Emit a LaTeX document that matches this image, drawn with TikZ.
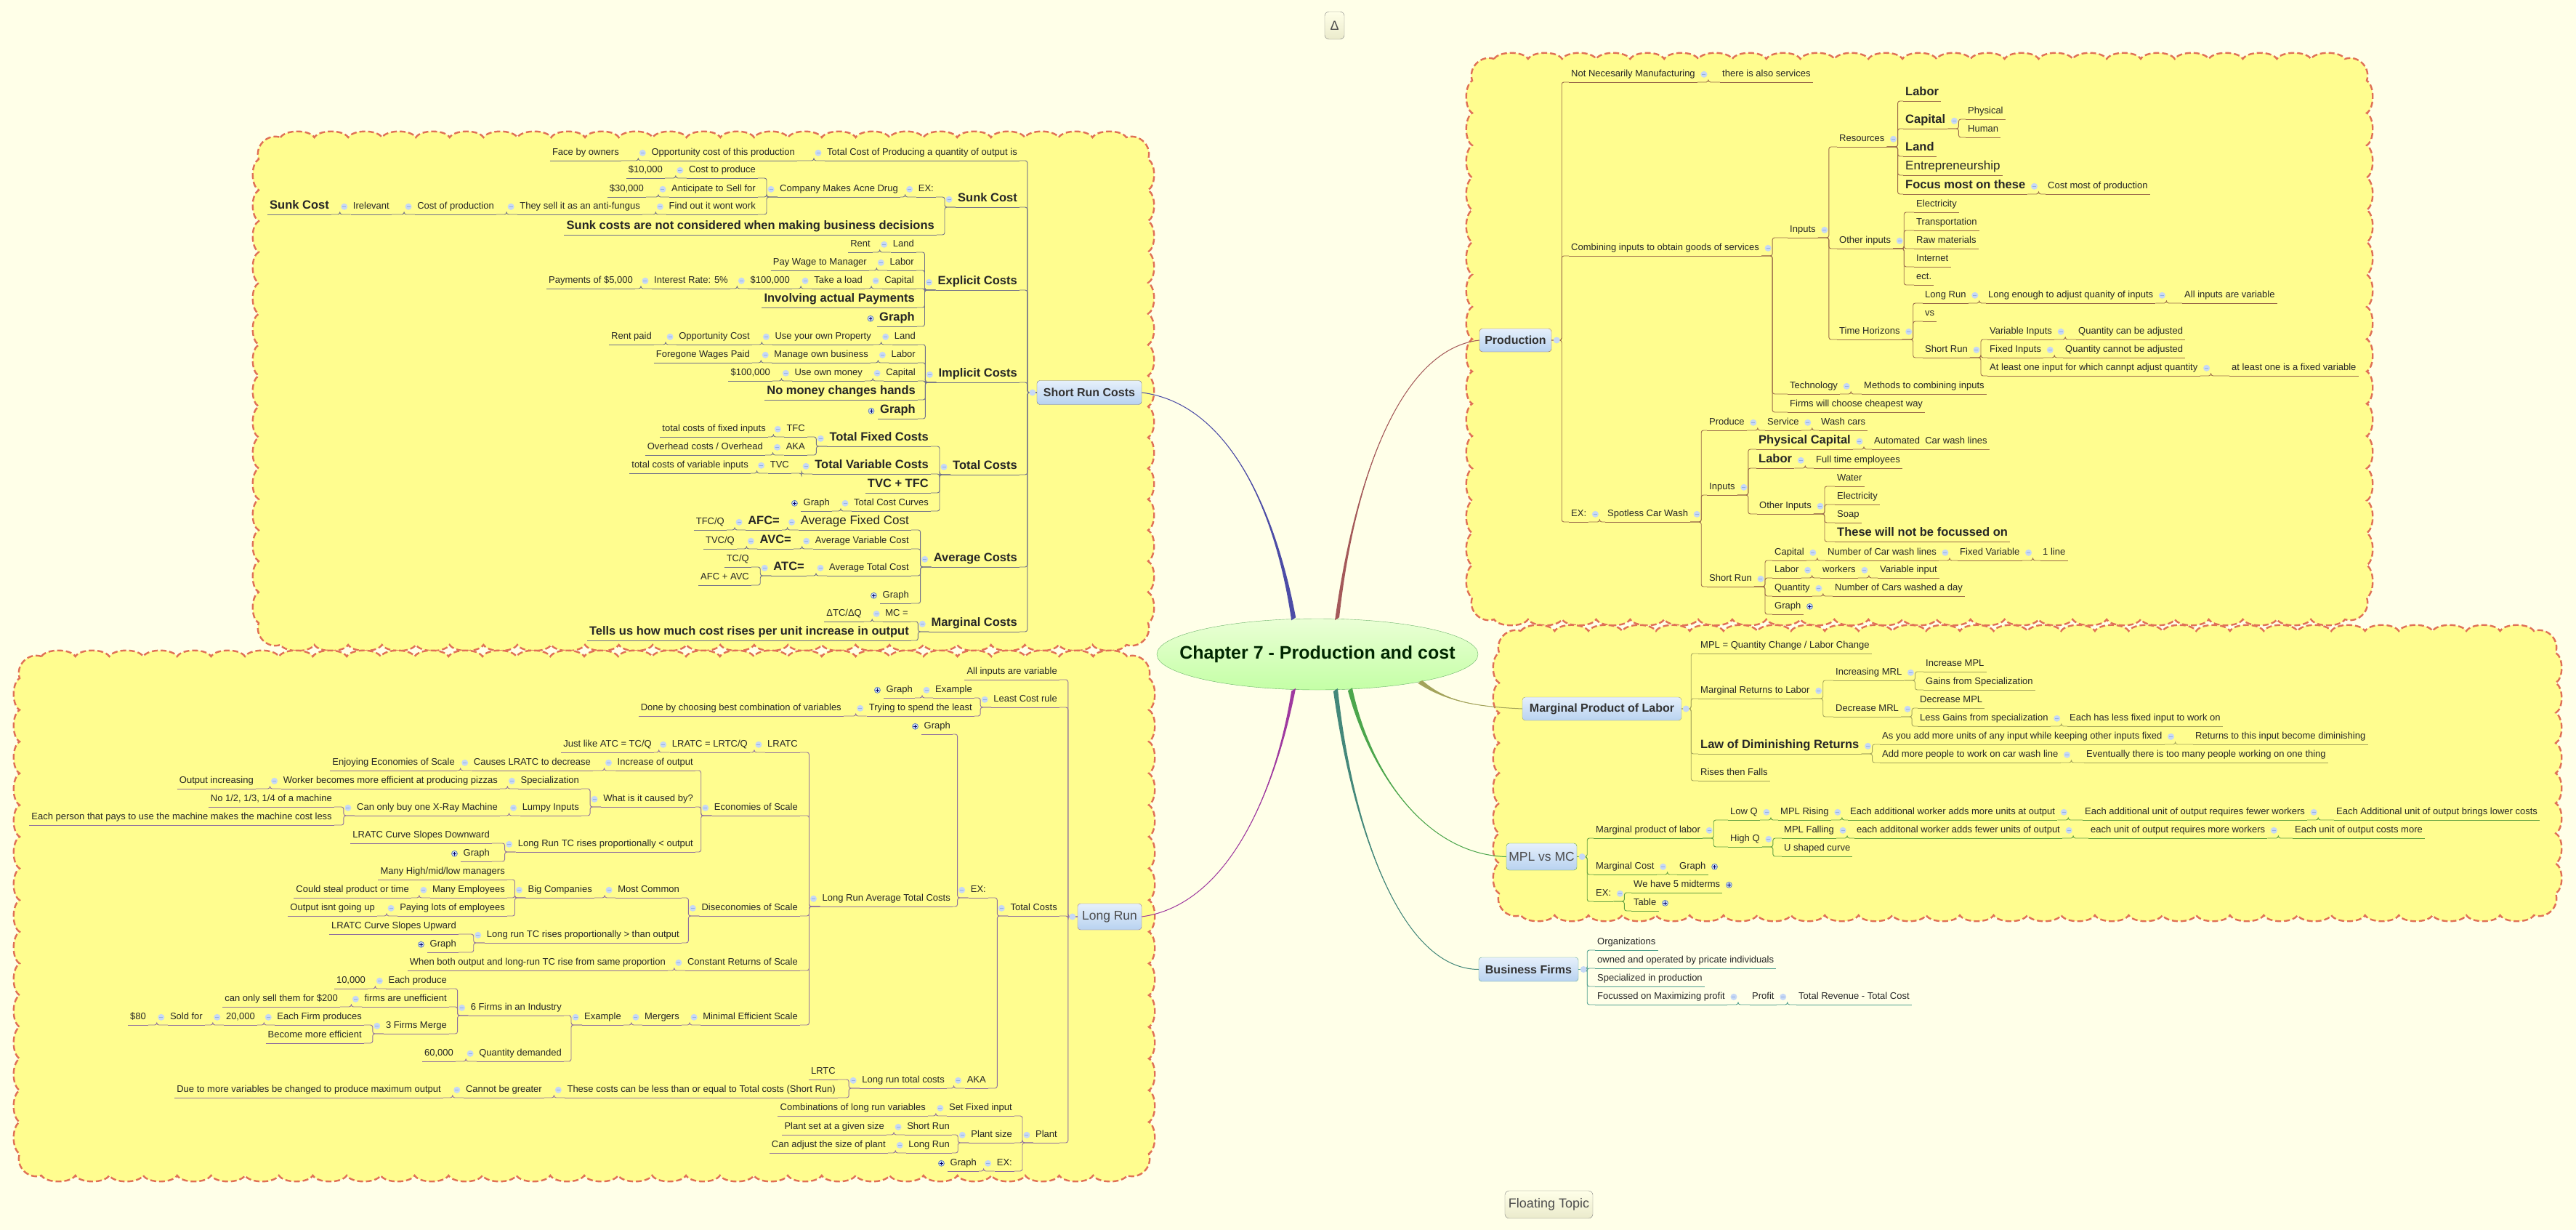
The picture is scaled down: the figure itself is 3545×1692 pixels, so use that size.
\documentclass[tikz,border=0pt]{standalone}
\usepackage{fontspec}
\usetikzlibrary{shapes.geometric}
\setmainfont{Liberation Sans}
\definecolor{paper}{HTML}{FFFFE8}
\definecolor{cloudfill}{HTML}{FFFD8F}
\definecolor{clouddash}{HTML}{E07055}
\definecolor{srcol}{HTML}{6F6F8A}
\definecolor{lrcol}{HTML}{8F6F9F}
\definecolor{prcol}{HTML}{9A6A4A}
\definecolor{mpcol}{HTML}{A3A35A}
\definecolor{vscol}{HTML}{60A040}
\definecolor{bfcol}{HTML}{50A090}
\definecolor{boxtop}{HTML}{E6F0FB}
\definecolor{boxbottom}{HTML}{B8D2F0}
\definecolor{dotfill}{HTML}{C6D8F5}
\definecolor{dotline}{HTML}{92B0E0}
\definecolor{plusline}{HTML}{5F7FB5}
\colorlet{branch}{srcol}
\tikzset{
	topic/.style={inner xsep=3,inner ysep=4,text height=10,text depth=3,text=black!85,font=\fontsize{13}{15}\selectfont,
		append after command={(\tikzlastnode.south west) edge[draw=branch,line width=.9] (\tikzlastnode.south east)}},
	big/.style={topic,font=\fontsize{16.5}{18}\selectfont\bfseries},
	mid/.style={topic,font=\fontsize{17}{19}\selectfont},
	lft/.style={anchor=south east,xshift=3},
	rgt/.style={anchor=south west,xshift=-3},
	link/.style={draw=branch,line width=.9,rounded corners=3},
	box/.style={rectangle,rounded corners=4,top color=boxtop,bottom color=boxbottom,inner sep=0,text=black!80,
		font=\fontsize{16}{18}\selectfont\bfseries},
	plainbox/.style={box,font=\fontsize{17.5}{20}\selectfont,text=black!70},
	float/.style={rectangle,rounded corners=6,draw=black!50,top color=paper,bottom color=yellow!60!black!20,inner sep=0,
		text=black!70,font=\fontsize{18}{20}\selectfont},
	cloud/.style={fill=cloudfill,draw=clouddash,line width=2.4,dash pattern=on 8pt off 4pt},
	minusdot/.style={fill=dotfill},
}
% cloud outline: arcs along each side, one round curve per corner
\newcommand{\cloudbox}[4]{
	\pgfmathtruncatemacro\cnx{round((#3-#1-60)/46)}
	\pgfmathtruncatemacro\cny{round((#4-#2-60)/44)}
	\pgfmathsetmacro\cdx{(#3-#1-60)/\cnx}
	\pgfmathsetmacro\cdy{(#4-#2-60)/\cny}
	\path[cloud] ({#1+30},#2)
		\foreach \i in {1,...,\cnx} { .. controls +({.15*\cdx},-11) and +({-.15*\cdx},-11) .. ++(\cdx,0) }
		.. controls +(18,-6) and +(6,-18) .. ++(30,30)
		\foreach \i in {1,...,\cny} { .. controls +(11,{.15*\cdy}) and +(11,{-.15*\cdy}) .. ++(0,\cdy) }
		.. controls +(6,18) and +(18,6) .. ++(-30,30)
		\foreach \i in {1,...,\cnx} { .. controls +({-.15*\cdx},11) and +({.15*\cdx},11) .. ++(-\cdx,0) }
		.. controls +(-18,6) and +(-6,18) .. ++(-30,-30)
		\foreach \i in {1,...,\cny} { .. controls +(-11,{-.15*\cdy}) and +(-11,{.15*\cdy}) .. ++(0,-\cdy) }
		.. controls +(-6,-18) and +(-18,-6) .. ++(30,-30) -- cycle;
}
% dot on a topic that has children, then the links to them
\newcommand{\treeL}[1]{\foreach \up/\kids in {#1}{
		\fill[minusdot] ([xshift=-9]\up.west) circle[radius=4.5];
		\draw[dotline,line width=.8] ([xshift=-11.5]\up.west) -- ([xshift=-6.5]\up.west);
		\foreach \kid in \kids {\draw[link] (\up.south west) -- ++(-15,0) |- (\kid.south east);}
}}
\newcommand{\treeR}[1]{\foreach \up/\kids in {#1}{
		\fill[minusdot] ([xshift=9]\up.east) circle[radius=4.5];
		\draw[dotline,line width=.8] ([xshift=6.5]\up.east) -- ([xshift=11.5]\up.east);
		\foreach \kid in \kids {\draw[link] (\up.south east) -- ++(15,0) |- (\kid.south west);}
}}
% collapsed topics
\newcommand{\plusdot}[2]{
	\coordinate (dotc) at ([xshift=#2]#1);
	\fill[dotfill,draw=plusline,line width=.7] (dotc) circle[radius=4];
	\draw[blue!40!black,line width=.7] ([xshift=-2.4]dotc) -- ([xshift=2.4]dotc) ([yshift=-2.4]dotc) -- ([yshift=2.4]dotc);
}
% tapered branch out of the central topic
\newcommand{\branchline}[5]{
	\fill[#1] ([shift={(-3,2)}]root.#2) .. controls #3 and #4 .. (#5) .. controls #4 and #3 .. ([shift={(3,-2)}]root.#2) -- cycle;
	\draw[#1,line width=1] (root.#2) .. controls #3 and #4 .. (#5);
}
\begin{document}
\begin{tikzpicture}[x=1pt,y=-1pt]
	\useasboundingbox (0,0) rectangle (3545,1692);
	\fill[paper] (0,0) rectangle (3545,1692);
	
	% --- Clouds ---
	\cloudbox{356}{189}{1580}{887}
	\cloudbox{27}{903}{1581}{1617}
	\cloudbox{2026}{81}{3257}{852}
	\cloudbox{2063}{868}{3517}{1259}
	
	% --- Central topic and boxes ---
	\node[ellipse,draw=black!50!green!60,top color=green!8!paper,bottom color=green!55!lime!35,minimum width=442,minimum height=98,inner sep=0] (root) at (1813,900) {};
	\node[text=black!75!green!60!black,font=\fontsize{25}{27}\selectfont\bfseries] (roottext) at (root.center) {Chapter 7 - Production and cost};
	\node[box,draw=srcol,minimum width=144,minimum height=33] (sbox) at (1499,540) {Short Run Costs};
	\node[plainbox,draw=lrcol,minimum width=88,minimum height=36] (gbox) at (1527,1261) {Long Run};
	\node[box,draw=prcol,minimum width=99,minimum height=32] (pbox) at (2085.5,468) {Production};
	\node[box,draw=mpcol,minimum width=219,minimum height=32] (lbox) at (2204.5,975) {Marginal Product of Labor};
	\node[plainbox,draw=vscol,minimum width=97,minimum height=37] (vbox) at (2121.5,1178.5) {MPL vs MC};
	\node[box,draw=bfcol,minimum width=137,minimum height=33] (fbox) at (2103.5,1333.5) {Business Firms};
	\node[float,minimum width=121,minimum height=38] (ftopic) at (2131.5,1657) {Floating Topic};
	\node[float,minimum width=27,minimum height=38] (fdelta) at (1836.5,35) {Δ};
	
	\branchline{blue!50!black!70}{124}{(1755,700)}{(1690,555)}{sbox.east}
	\branchline{violet!55!magenta!55!gray}{236}{(1755,1090)}{(1690,1245)}{gbox.east}
	\branchline{red!45!black!65}{61}{(1865,650)}{(1930,480)}{pbox.west}
	\branchline{mpcol}{345}{(1990,965)}{(2030,972)}{lbox.west}
	\branchline{green!50!black!70}{313}{(1885,1060)}{(1960,1175)}{vbox.west}
	\branchline{bfcol!85!black}{297}{(1860,1130)}{(1925,1333)}{fbox.west}
	
	% --- Short Run Costs ---
	\colorlet{branch}{srcol}
	\node[topic,lft] (stot) at (1400,221) {Total Cost of Producing a quantity of output is};
	\node[topic,lft] (sopp) at (1094,221) {Opportunity cost of this production};
	\node[topic,lft] (sface) at (852,221) {Face by owners};
	\node[big,lft] (ssunk) at (1400,285) {Sunk Cost};
	\node[topic,lft] (sex) at (1285,271) {EX:};
	\node[topic,lft] (scomp) at (1236,271) {Company Makes Acne Drug};
	\node[topic,lft] (santi) at (1040,271) {Anticipate to Sell for};
	\node[topic,lft] (s30) at (886,271) {\$30,000};
	\node[topic,lft] (scost) at (1040,245) {Cost to produce};
	\node[topic,lft] (s10) at (912,245) {\$10,000};
	\node[topic,lft] (sfind) at (1040,295) {Find out it wont work};
	\node[topic,lft] (ssell) at (881,295) {They sell it as an anti-fungus};
	\node[topic,lft] (sprod) at (680,295) {Cost of production};
	\node[topic,lft] (sirr) at (536,295) {Irelevant};
	\node[big,lft] (ssc) at (453,295) {Sunk Cost};
	\node[big,lft] (snot) at (1286,323) {Sunk costs are not considered when making business decisions};
	% explicit
	\node[big,lft] (sexp) at (1400,399) {Explicit Costs};
	\node[topic,lft] (eland) at (1258,347) {Land};
	\node[topic,lft] (erent) at (1198,347) {Rent};
	\node[topic,lft] (elabor) at (1258,372) {Labor};
	\node[topic,lft] (ewage) at (1193,372) {Pay Wage to Manager};
	\node[topic,lft] (ecap) at (1258,397) {Capital};
	\node[topic,lft] (eload) at (1187,397) {Take a load};
	\node[topic,lft] (e100) at (1087,397) {\$100,000};
	\node[topic,lft] (erate) at (1002,397) {Interest Rate: 5\%};
	\node[topic,lft] (epay) at (871,397) {Payments of \$5,000};
	\node[big,lft] (einv) at (1259,423) {Involving actual Payments};
	\node[big,lft] (egraph) at (1259,449) {Graph};
	% implicit
	\node[big,lft] (simp) at (1400,526) {Implicit Costs};
	\node[topic,lft] (iland) at (1260,474) {Land};
	\node[topic,lft] (iuse) at (1199,474) {Use your own Property};
	\node[topic,lft] (iopp) at (1032,474) {Opportunity Cost};
	\node[topic,lft] (irent) at (897,474) {Rent paid};
	\node[topic,lft] (ilabor) at (1260,499) {Labor};
	\node[topic,lft] (iman) at (1195,499) {Manage own business};
	\node[topic,lft] (iwage) at (1032,499) {Foregone Wages Paid};
	\node[topic,lft] (icap) at (1260,524) {Capital};
	\node[topic,lft] (imoney) at (1187,524) {Use own money};
	\node[topic,lft] (i100) at (1060,524) {\$100,000};
	\node[big,lft] (ino) at (1260,550) {No money changes hands};
	\node[big,lft] (igraph) at (1260,576) {Graph};
	% total
	\node[big,lft] (stc) at (1400,653) {Total Costs};
	\node[big,lft] (tfix) at (1278,614) {Total Fixed Costs};
	\node[topic,lft] (ttfc) at (1108,601) {TFC};
	\node[topic,lft] (tinp) at (1054,601) {total costs of fixed inputs};
	\node[topic,lft] (taka) at (1108,626) {AKA};
	\node[topic,lft] (tover) at (1050,626) {Overhead costs / Overhead};
	\node[big,lft] (tvar) at (1278,652) {Total Variable Costs};
	\node[topic,lft] (ttvc) at (1086,651) {TVC};
	\node[topic,lft] (tvinp) at (1030,651) {total costs of variable inputs};
	\node[big,lft] (tsum) at (1278,678) {TVC + TFC};
	\node[topic,lft] (tcur) at (1278,703) {Total Cost Curves};
	\node[topic,lft] (tgraph) at (1142,703) {Graph};
	% average
	\node[big,lft] (sac) at (1400,780) {Average Costs};
	\node[mid,lft] (afix) at (1251,729) {Average Fixed Cost};
	\node[big,lft] (aafc) at (1073,729) {AFC=};
	\node[topic,lft] (atfc) at (997,729) {TFC/Q};
	\node[topic,lft] (avar) at (1251,755) {Average Variable Cost};
	\node[big,lft] (aavc) at (1089,755) {AVC=};
	\node[topic,lft] (atvc) at (1011,755) {TVC/Q};
	\node[topic,lft] (atot) at (1251,792) {Average Total Cost};
	\node[big,lft] (aatc) at (1107,792) {ATC=};
	\node[topic,lft] (atcq) at (1031,780) {TC/Q};
	\node[topic,lft] (asum) at (1031,805) {AFC + AVC};
	\node[topic,lft] (agraph) at (1251,830) {Graph};
	% marginal
	\node[big,lft] (smc) at (1400,869) {Marginal Costs};
	\node[topic,lft] (mmc) at (1250,855) {MC =};
	\node[topic,lft] (mdelta) at (1186,855) {ΔTC/ΔQ};
	\node[big,lft] (mtell) at (1251,881) {Tells us how much cost rises per unit increase in output};
	
	\treeL{stot/sopp,sopp/sface,ssunk/{sex,snot},sex/scomp,scomp/{scost,santi,sfind},scost/s10,santi/s30,
		sfind/ssell,ssell/sprod,sprod/sirr,sirr/ssc,
		sexp/{eland,elabor,ecap,einv,egraph},eland/erent,elabor/ewage,ecap/eload,eload/e100,e100/erate,erate/epay,
		simp/{iland,ilabor,icap,ino,igraph},iland/iuse,iuse/iopp,iopp/irent,ilabor/iman,iman/iwage,icap/imoney,imoney/i100,
		stc/{tfix,tvar,tsum,tcur},tfix/{ttfc,taka},ttfc/tinp,taka/tover,tvar/ttvc,ttvc/tvinp,tcur/tgraph,
		sac/{afix,avar,atot,agraph},afix/aafc,aafc/atfc,avar/aavc,aavc/atvc,atot/aatc,aatc/{atcq,asum},
		smc/{mmc,mtell},mmc/mdelta}
	\foreach \kid in {stot,ssunk,sexp,simp,stc,sac,smc} {\draw[link] (sbox.west) -- ++(-13,0) |- (\kid.south east);}
	\fill[minusdot] ([xshift=-6]sbox.west) circle[radius=4.5];
	
	% --- Long Run ---
	\colorlet{branch}{lrcol}
	\node[topic,lft] (gall) at (1455,935) {All inputs are variable};
	\node[topic,lft] (gleast) at (1455,973) {Least Cost rule};
	\node[topic,lft] (gex1) at (1338,960) {Example};
	\node[topic,lft] (ggr1) at (1256,960) {Graph};
	\node[topic,lft] (gtry) at (1338,985) {Trying to spend the least};
	\node[topic,lft] (gdone) at (1158,985) {Done by choosing best combination of variables};
	\node[topic,lft] (gtc) at (1455,1260) {Total Costs};
	\node[topic,lft] (gexx) at (1357,1235) {EX:};
	\node[topic,lft] (ggr2) at (1308,1010) {Graph};
	\node[topic,lft] (gavg) at (1308,1247) {Long Run Average Total Costs};
	\node[topic,lft] (glratc) at (1098,1035) {LRATC};
	\node[topic,lft] (gratio) at (1029,1035) {LRATC = LRTC/Q};
	\node[topic,lft] (gjust) at (897,1035) {Just like ATC = TC/Q};
	% economies
	\node[topic,lft] (geco) at (1098,1122) {Economies of Scale};
	\node[topic,lft] (ginc) at (954,1060) {Increase of output};
	\node[topic,lft] (gcau) at (813,1060) {Causes LRATC to decrease};
	\node[topic,lft] (genj) at (626,1060) {Enjoying Economies of Scale};
	\node[topic,lft] (gwhat) at (954,1110) {What is it caused by?};
	\node[topic,lft] (gspe) at (797,1085) {Specialization};
	\node[topic,lft] (gwork) at (685,1085) {Worker becomes more efficient at producing pizzas};
	\node[topic,lft] (goutp) at (349,1085) {Output increasing};
	\node[topic,lft] (glump) at (797,1122) {Lumpy Inputs};
	\node[topic,lft] (gxray) at (685,1122) {Can only buy one X-Ray Machine};
	\node[topic,lft] (gno) at (457,1110) {No 1/2, 1/3, 1/4 of a machine};
	\node[topic,lft] (geach) at (457,1135) {Each person that pays to use the machine makes the machine cost less};
	\node[topic,lft] (gprop) at (954,1172) {Long Run TC rises proportionally < output};
	\node[topic,lft] (gslo) at (674,1160) {LRATC Curve Slopes Downward};
	\node[topic,lft] (ggr3) at (674,1185) {Graph};
	% diseconomies
	\node[topic,lft] (gdis) at (1098,1260) {Diseconomies of Scale};
	\node[topic,lft] (gmost) at (935,1235) {Most Common};
	\node[topic,lft] (gbig) at (815,1235) {Big Companies};
	\node[topic,lft] (gmany) at (695,1210) {Many High/mid/low managers};
	\node[topic,lft] (gemp) at (695,1235) {Many Employees};
	\node[topic,lft] (gsteal) at (563,1235) {Could steal product or time};
	\node[topic,lft] (gpay) at (695,1260) {Paying lots of employees};
	\node[topic,lft] (gisnt) at (516,1260) {Output isnt going up};
	\node[topic,lft] (gprop2) at (935,1297) {Long run TC rises proportionally > than output};
	\node[topic,lft] (gslup) at (628,1285) {LRATC Curve Slopes Upward};
	\node[topic,lft] (ggr4) at (628,1310) {Graph};
	\node[topic,lft] (gcon) at (1098,1335) {Constant Returns of Scale};
	\node[topic,lft] (gwhen) at (916,1335) {When both output and long-run TC rise from same proportion};
	% minimal efficient scale
	\node[topic,lft] (gmin) at (1098,1410) {Minimal Efficient Scale};
	\node[topic,lft] (gmer) at (935,1410) {Mergers};
	\node[topic,lft] (gexam) at (855,1410) {Example};
	\node[topic,lft] (gsix) at (773,1397) {6 Firms in an Industry};
	\node[topic,lft] (geprod) at (615,1360) {Each produce};
	\node[topic,lft] (g10) at (503,1360) {10,000};
	\node[topic,lft] (gunef) at (615,1385) {firms are unefficient};
	\node[topic,lft] (gsell) at (465,1385) {can only sell them for \$200};
	\node[topic,lft] (gthree) at (615,1422) {3 Firms Merge};
	\node[topic,lft] (geachf) at (498,1410) {Each Firm produces};
	\node[topic,lft] (g20) at (351,1410) {20,000};
	\node[topic,lft] (gsold) at (279,1410) {Sold for};
	\node[topic,lft] (g80) at (201,1410) {\$80};
	\node[topic,lft] (gbec) at (498,1435) {Become more efficient};
	\node[topic,lft] (gqty) at (773,1460) {Quantity demanded};
	\node[topic,lft] (g60) at (624,1460) {60,000};
	% long run total costs
	\node[topic,lft] (gaka) at (1357,1497) {AKA};
	\node[topic,lft] (glong) at (1300,1497) {Long run total costs};
	\node[topic,lft] (glrtc) at (1150,1485) {LRTC};
	\node[topic,lft] (gthese) at (1150,1510) {These costs can be less than or equal to Total costs (Short Run)};
	\node[topic,lft] (gcann) at (746,1510) {Cannot be greater};
	\node[topic,lft] (gdue) at (607,1510) {Due to more variables be changed to produce maximum output};
	% plant
	\node[topic,lft] (gplant) at (1455,1572) {Plant};
	\node[topic,lft] (gset) at (1393,1535) {Set Fixed input};
	\node[topic,lft] (gcomb) at (1274,1535) {Combinations of long run variables};
	\node[topic,lft] (gsize) at (1393,1572) {Plant size};
	\node[topic,lft] (gsr) at (1307,1561) {Short Run};
	\node[topic,lft] (gpset) at (1217,1561) {Plant set at a given size};
	\node[topic,lft] (glr) at (1307,1586) {Long Run};
	\node[topic,lft] (gadj) at (1219,1586) {Can adjust the size of plant};
	\node[topic,lft] (gex3) at (1393,1611) {EX:};
	\node[topic,lft] (ggr5) at (1344,1611) {Graph};
	
	\treeL{gleast/{gex1,gtry},gex1/ggr1,gtry/gdone,gtc/{gexx,gaka},gexx/{ggr2,gavg},gavg/{glratc,geco,gdis,gcon,gmin},
		glratc/gratio,gratio/gjust,geco/{ginc,gwhat,gprop},ginc/gcau,gcau/genj,gwhat/{gspe,glump},gspe/gwork,gwork/goutp,
		glump/gxray,gxray/{gno,geach},gprop/{gslo,ggr3},gdis/{gmost,gprop2},gmost/gbig,gbig/{gmany,gemp,gpay},gemp/gsteal,
		gpay/gisnt,gprop2/{gslup,ggr4},gcon/gwhen,gmin/gmer,gmer/gexam,gexam/{gsix,gqty},gsix/{geprod,gunef,gthree},
		geprod/g10,gunef/gsell,gthree/{geachf,gbec},geachf/g20,g20/gsold,gsold/g80,gqty/g60,gaka/glong,glong/{glrtc,gthese},
		gthese/gcann,gcann/gdue,gplant/{gset,gsize,gex3},gset/gcomb,gsize/{gsr,glr},gsr/gpset,glr/gadj,gex3/ggr5}
	\foreach \kid in {gall,gleast,gtc,gplant} {\draw[link] (gbox.west) -- ++(-13,0) |- (\kid.south east);}
	\fill[minusdot] ([xshift=-7]gbox.west) circle[radius=4.5];
	
	% --- Production ---
	\colorlet{branch}{prcol}
	\node[topic,rgt] (pnot) at (2162,113) {Not Necesarily Manufacturing};
	\node[topic,rgt] (pthere) at (2370,113) {there is also services};
	\node[topic,rgt] (pcomb) at (2162,352) {Combining inputs to obtain goods of services};
	\node[topic,rgt] (pinp) at (2463,327) {Inputs};
	\node[topic,rgt] (pres) at (2531,202) {Resources};
	\node[big,rgt] (plab) at (2622,139) {Labor};
	\node[big,rgt] (pcap) at (2622,177) {Capital};
	\node[topic,rgt] (pphy) at (2708,164) {Physical};
	\node[topic,rgt] (phum) at (2708,189) {Human};
	\node[big,rgt] (pland) at (2622,215) {Land};
	\node[mid,rgt] (pent) at (2622,241) {Entrepreneurship};
	\node[big,rgt] (pfoc) at (2622,267) {Focus most on these};
	\node[topic,rgt] (pmost) at (2818,267) {Cost most of production};
	\node[topic,rgt] (poth) at (2531,342) {Other inputs};
	\node[topic,rgt] (pel) at (2637,292) {Electricity};
	\node[topic,rgt] (ptr) at (2637,317) {Transportation};
	\node[topic,rgt] (praw) at (2637,342) {Raw materials};
	\node[topic,rgt] (pint) at (2637,367) {Internet};
	\node[topic,rgt] (pect) at (2637,392) {ect.};
	\node[topic,rgt] (ptime) at (2531,467) {Time Horizons};
	\node[topic,rgt] (plong) at (2649,417) {Long Run};
	\node[topic,rgt] (penough) at (2736,417) {Long enough to adjust quanity of inputs};
	\node[topic,rgt] (pall) at (3006,417) {All inputs are variable};
	\node[topic,rgt] (pvs) at (2649,442) {vs};
	\node[topic,rgt] (pshort) at (2649,492) {Short Run};
	\node[topic,rgt] (pvar) at (2738,467) {Variable Inputs};
	\node[topic,rgt] (pqca) at (2860,467) {Quantity can be adjusted};
	\node[topic,rgt] (pfix) at (2738,492) {Fixed Inputs};
	\node[topic,rgt] (pqcn) at (2842,492) {Quantity cannot be adjusted};
	\node[topic,rgt] (pleast) at (2738,517) {At least one input for which cannpt adjust quantity};
	\node[topic,rgt] (pone) at (3071,517) {at least one is a fixed variable};
	\node[topic,rgt] (ptech) at (2463,542) {Technology};
	\node[topic,rgt] (pmeth) at (2565,542) {Methods to combining inputs};
	\node[topic,rgt] (pfirm) at (2463,567) {Firms will choose cheapest way};
	% car wash
	\node[topic,rgt] (pex) at (2162,718) {EX:};
	\node[topic,rgt] (pspot) at (2212,718) {Spotless Car Wash};
	\node[topic,rgt] (ppro) at (2352,592) {Produce};
	\node[topic,rgt] (pserv) at (2432,592) {Service};
	\node[topic,rgt] (pwash) at (2506,592) {Wash cars};
	\node[topic,rgt] (pin2) at (2352,681) {Inputs};
	\node[big,rgt] (ppc) at (2420,618) {Physical Capital};
	\node[topic,rgt] (pauto) at (2579,618) {Automated\ \ Car wash lines};
	\node[big,rgt] (plb) at (2420,644) {Labor};
	\node[topic,rgt] (pfull) at (2499,644) {Full time employees};
	\node[topic,rgt] (pot) at (2421,707) {Other Inputs};
	\node[topic,rgt] (pwat) at (2528,669) {Water};
	\node[topic,rgt] (pele) at (2528,694) {Electricity};
	\node[topic,rgt] (psoap) at (2528,719) {Soap};
	\node[big,rgt] (pthese) at (2528,745) {These will not be focussed on};
	\node[topic,rgt] (psr) at (2352,807) {Short Run};
	\node[topic,rgt] (pcp) at (2442,771) {Capital};
	\node[topic,rgt] (pnum) at (2515,771) {Number of Car wash lines};
	\node[topic,rgt] (pfv) at (2697,771) {Fixed Variable};
	\node[topic,rgt] (pline) at (2811,771) {1 line};
	\node[topic,rgt] (plw) at (2442,795) {Labor};
	\node[topic,rgt] (pwork) at (2508,795) {workers};
	\node[topic,rgt] (pvi) at (2587,795) {Variable input};
	\node[topic,rgt] (pqu) at (2442,820) {Quantity};
	\node[topic,rgt] (pcars) at (2525,820) {Number of Cars washed a day};
	\node[topic,rgt] (pgr) at (2442,845) {Graph};
	
	\treeR{pnot/pthere,pcomb/{pinp,ptech,pfirm},pinp/{pres,poth,ptime},pres/{plab,pcap,pland,pent,pfoc},pcap/{pphy,phum},
		pfoc/pmost,poth/{pel,ptr,praw,pint,pect},ptime/{plong,pvs,pshort},plong/penough,penough/pall,pshort/{pvar,pfix,pleast},
		pvar/pqca,pfix/pqcn,pleast/pone,ptech/pmeth,pex/pspot,pspot/{ppro,pin2,psr},ppro/pserv,pserv/pwash,pin2/{ppc,plb,pot},
		ppc/pauto,plb/pfull,pot/{pwat,pele,psoap,pthese},psr/{pcp,plw,pqu,pgr},pcp/pnum,pnum/pfv,pfv/pline,plw/pwork,pwork/pvi,pqu/pcars}
	\foreach \kid in {pnot,pcomb,pex} {\draw[link] (pbox.east) -- ++(14,0) |- (\kid.south west);}
	\fill[minusdot] ([xshift=7]pbox.east) circle[radius=4.5];
	
	% --- Marginal Product of Labor ---
	\colorlet{branch}{mpcol}
	\node[topic,rgt] (lquant) at (2340,899) {MPL = Quantity Change / Labor Change};
	\node[topic,rgt] (lret) at (2340,961) {Marginal Returns to Labor};
	\node[topic,rgt] (linc) at (2526,936) {Increasing MRL};
	\node[topic,rgt] (limp) at (2650,924) {Increase MPL};
	\node[topic,rgt] (lgain) at (2650,949) {Gains from Specialization};
	\node[topic,rgt] (ldec) at (2526,986) {Decrease MRL};
	\node[topic,rgt] (ldmp) at (2642,974) {Decrease MPL};
	\node[topic,rgt] (lless) at (2642,999) {Less Gains from specialization};
	\node[topic,rgt] (leach) at (2848,999) {Each has less fixed input to work on};
	\node[big,rgt] (llaw) at (2340,1037) {Law of Diminishing Returns};
	\node[topic,rgt] (ladd) at (2590,1024) {As you add more units of any input while keeping other inputs fixed};
	\node[topic,rgt] (lreturn) at (3021,1024) {Returns to this input become diminishing};
	\node[topic,rgt] (lmore) at (2590,1049) {Add more people to work on car wash line};
	\node[topic,rgt] (lev) at (2871,1049) {Eventually there is too many people working on one thing};
	\node[topic,rgt] (lrise) at (2340,1074) {Rises then Falls};
	
	\treeR{lret/{linc,ldec},linc/{limp,lgain},ldec/{ldmp,lless},lless/leach,llaw/{ladd,lmore},ladd/lreturn,lmore/lev}
	\foreach \kid in {lquant,lret,llaw,lrise} {\draw[link] (lbox.east) -- ++(13,0) |- (\kid.south west);}
	\fill[minusdot] ([xshift=6]lbox.east) circle[radius=4.5];
	
	% --- MPL vs MC ---
	\colorlet{branch}{vscol}
	\node[topic,rgt] (vmp) at (2196,1153) {Marginal product of labor};
	\node[topic,rgt] (vlow) at (2381,1128) {Low Q};
	\node[topic,rgt] (vrise) at (2450,1128) {MPL Rising};
	\node[topic,rgt] (veacha) at (2546,1128) {Each additional worker adds more units at output};
	\node[topic,rgt] (veachb) at (2869,1128) {Each additional unit of output requires fewer workers};
	\node[topic,rgt] (veachc) at (3215,1128) {Each Additional unit of output brings lower costs};
	\node[topic,rgt] (vhigh) at (2381,1165) {High Q};
	\node[topic,rgt] (vfall) at (2455,1153) {MPL Falling};
	\node[topic,rgt] (vadd) at (2555,1153) {each additonal worker adds fewer units of output};
	\node[topic,rgt] (vunit) at (2877,1153) {each unit of output requires more workers};
	\node[topic,rgt] (vcost) at (3158,1153) {Each unit of output costs more};
	\node[topic,rgt] (vu) at (2455,1178) {U shaped curve};
	\node[topic,rgt] (vmc) at (2196,1203) {Marginal Cost};
	\node[topic,rgt] (vgraph) at (2311,1203) {Graph};
	\node[topic,rgt] (vex) at (2196,1240) {EX:};
	\node[topic,rgt] (vmid) at (2248,1228) {We have 5 midterms};
	\node[topic,rgt] (vtab) at (2248,1253) {Table};
	
	\treeR{vmp/{vlow,vhigh},vlow/vrise,vrise/veacha,veacha/veachb,veachb/veachc,vhigh/{vfall,vu},vfall/vadd,vadd/vunit,vunit/vcost,
		vmc/vgraph,vex/{vmid,vtab}}
	\foreach \kid in {vmp,vmc,vex} {\draw[link] (vbox.east) -- ++(14,0) |- (\kid.south west);}
	\fill[minusdot] ([xshift=7]vbox.east) circle[radius=4.5];
	
	% --- Business Firms ---
	\colorlet{branch}{bfcol}
	\node[topic,rgt] (forg) at (2198,1307) {Organizations};
	\node[topic,rgt] (fown) at (2198,1332) {owned and operated by pricate individuals};
	\node[topic,rgt] (fspec) at (2198,1357) {Specialized in production};
	\node[topic,rgt] (fmax) at (2198,1382) {Focussed on Maximizing profit};
	\node[topic,rgt] (fprof) at (2411,1382) {Profit};
	\node[topic,rgt] (frev) at (2475,1382) {Total Revenue - Total Cost};
	
	\treeR{fmax/fprof,fprof/frev}
	\foreach \kid in {forg,fown,fspec,fmax} {\draw[link] (fbox.east) -- ++(12,0) |- (\kid.south west);}
	\fill[minusdot] ([xshift=7]fbox.east) circle[radius=4.5];
	
	% --- Collapsed topics ---
	\foreach \n in {egraph,igraph,tgraph,agraph,ggr1,ggr2,ggr3,ggr4,ggr5} {\plusdot{\n.west}{-9}}
	\foreach \n in {pgr,vgraph,vmid,vtab} {\plusdot{\n.east}{9}}
\end{tikzpicture}
\end{document}
